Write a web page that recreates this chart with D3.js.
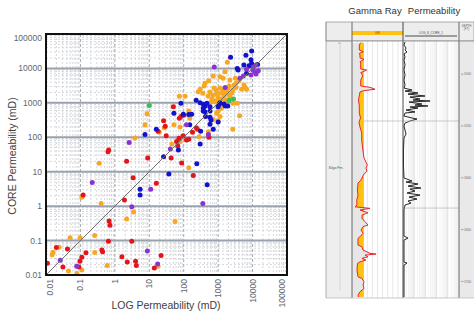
<!DOCTYPE html>
<html><head><meta charset="utf-8">
<script src="https://cdn.jsdelivr.net/npm/d3@7"></script>
<style>body{margin:0;background:#fff}svg{display:block;font-family:"Liberation Sans",Arial,sans-serif}</style>
</head><body><svg id="c" width="474" height="321"></svg>
<script>
// ---------- scatter data: [LOG permeability, CORE permeability] in mD ----------
const orangePts = [[0.015,0.039],[0.016,0.046],[0.024,0.064],[0.045,0.013],[0.05,0.12],[0.098,0.12],[0.11,0.014],[0.079,0.011],[0.26,0.14],[0.26,0.045],[0.6,0.019],[2.2,0.42],[3.5,0.68],[18,0.018],[56,0.36],[0.4,1.2],[0.11,1.8],[0.35,17.5],[3.8,95],[7.5,230],[8.6,480],[140,13],[19.5,140],[27,190],[45,64],[78,76],[91,104],[280,104],[520,145],[2650,170],[4200,420],[52,230],[78,200],[140,580],[150,360],[910,500],[1130,400],[720,330],[1000,300],[1010,580],[1230,700],[110,1550],[75,1550],[3600,970],[2750,970],
[1850,15000],[1580,8000],[1130,5700],[2200,4600],[3150,5200],[4000,4300],[5600,3300],[2900,3300],[530,4400],[415,3700],[300,2500],[265,2100],[360,1900],[2700,2400],[3300,2800],[4800,2500],[6700,2500],[2100,3100],[720,6000],[390,3100],[1400,5200],[3300,3700],[6000,2900],
[580,2060],[710,1690],[870,2360],[990,1480],[1210,1930],[1480,1580],[1810,2200],[2070,1690],[660,1290],[810,1130],[1060,1210],[1290,1290],[1690,1210],[2200,1480],[760,2700],[1130,2700],[1580,1810],[510,1580],[620,1060],[930,1810],[1380,2360],[1930,2700],[2520,1930]];
const redPts = [[0.011,0.022],[0.020,0.063],[0.042,0.057],[0.031,0.017],[0.145,0.044],[0.11,0.033],[0.097,0.025],[0.09,0.017],[0.42,0.053],[0.44,0.047],[0.65,0.095],[0.68,0.37],[0.72,0.28],[1.6,0.034],[2.3,0.024],[3.1,0.095],[4.0,0.025],[4.2,0.019],[14,0.016],[22,0.037],
[0.63,38],[0.66,43],[2.2,20],[9.0,25],[3.4,6.7],[0.12,2.1],[1.9,1.5],[16,4.6],[43,25],[87,18],[190,7.7],
[26,300],[29,210],[18,150],[31,110],[50,770],[100,440],[85,410],[75,360],[230,190],[250,170],[180,140],[540,100],[97,110],[120,83],[140,87],[73,93],[62,75],[67,57]];
const bluePts = [[9400,32000],[6400,24000],[2300,21000],[9000,18000],[5600,12600],[7900,12000],[9400,14000],[14000,13000],[3600,10000],[3800,9000],[6700,7200],
[230,1200],[300,1000],[370,910],[420,810],[580,770],[1080,910],[1480,930],[1600,810],[1900,810],[1130,1000],[470,970],[370,700],[410,550],
[83,970],[170,470],[140,460],[97,470],[52,500],[370,580],[580,580],[430,400],[580,380],[1000,280],[620,320],[580,240],[720,170],[150,230],[16,170],[310,150],[70,43],[26,27],[240,17],[37,8.6],[480,4.2],[5.4,3.1],[5.4,2.1],[7.5,120],[300,64],[1000,770]];
const purplePts = [[10500,11000],[12600,12600],[10300,9000],[11500,8000],[9000,6400],[12600,6900],[6700,9400],[5400,6000],[14700,8600],[770,11000],[4300,5200],[1600,2800],[120,230],[520,120],[41,46],[2.6,70],[0.22,4.9],[11,3.1],[360,1.2],[3.1,0.96],[8.8,0.05],[17.5,0.021],[0.026,0.027],[0.078,0.018]];
const greenPts = [[10,840],[2100,1200],[2800,1300]];
const majorTicks = [0.01,0.1,1,10,100,1000,10000,100000];
const tickLabels = ["0.01","0.1","1","10","100","1000","10000","100000"];

// ---------- well log data ----------
const grDepth = [1469.6,1471.9,1476.7,1478.3,1479.9,1481.5,1484.4,1485.7,1488.0,1489.2,1495.0,1496.0,1498.6,1498.9,1501.8,1503.7,1505.6,1511.4,1512.7,1514.6,1516.0,1517.2,1524.9,1530.7,1537.5,1542.3,1546.2,1551.0,1556.8,1563.6,1570.3,1576.1,1580.9,1584.8,1587.7,1590.6,1593.5,1597.4,1602.2,1605.1,1611.8,1617.6,1621.5,1626.3,1628.0,1629.5,1631.1,1633.7,1636.0,1639.1,1642.4,1645.6,1647.2,1650.4,1653.6,1656.9,1658.5,1664.9,1666.6,1669.7,1672.9,1673.6,1674.6,1676.2,1677.8,1679.4,1681.1,1682.6,1689.1,1695.5,1697.1,1700.4,1703.5,1706.7,1710.0,1713.2,1715.1];
const grValues = [25.6,21.5,21.5,33.2,21.5,23.5,23.5,35.3,23.5,25.6,25.6,43.2,25.6,28.5,30.9,28.5,25.6,25.6,52.9,67.6,33.2,23.5,19.1,21.5,21.5,25,20.6,23.5,28.5,28.5,30.9,33.2,35.3,41.2,45,41.2,44.1,33.2,26.5,17.6,16.2,17.6,13.8,14.7,8.8,52.9,23.5,47.1,29.4,29.4,38.2,47.1,32.4,26.5,32.4,23.5,17.6,17.6,29.4,32.4,52.9,70.6,38.2,47.1,29.4,41.2,23.5,16.2,14.7,17.6,29.4,35.3,32.4,35.3,23.5,17.6,19.1];
const permDepth = [1469.0,1471.9,1474.8,1476.7,1478.6,1480.5,1483.4,1486.3,1491.1,1495.9,1500.8,1505.6,1510.5,1513.4,1515.3,1516.3,1518.2,1519.2,1521.1,1522.1,1524.0,1525.0,1525.9,1526.9,1528.8,1529.8,1530.7,1531.7,1532.7,1534.6,1536.5,1537.5,1540.4,1542.3,1543.3,1545.2,1547.2,1550.1,1553.9,1557.8,1561.6,1573.2,1587.7,1600.2,1603.1,1604.1,1606.0,1608.0,1609.9,1610.9,1612.8,1614.7,1616.7,1618.6,1620.5,1622.4,1624.4,1626.3,1631.1,1640.8,1656.2,1658.2,1660.1,1674.6,1681.3,1682.3,1684.2,1698.7,1715.1];
const permValues = [0.151,0.123,0.185,0.151,0.228,0.123,0.151,0.123,0.151,0.123,0.151,0.123,0.151,0.123,0.64,0.151,2.2,0.28,9.2,0.42,3.3,0.78,26,0.343,5.0,1.18,17,0.42,2.2,0.185,1.18,0.151,0.123,0.64,1.78,0.42,0.151,0.123,0.151,0.185,0.123,0.11,0.11,0.123,0.64,0.185,2.2,0.28,4.0,0.42,1.18,0.228,3.3,0.343,1.78,0.28,0.52,0.151,0.123,0.123,0.123,0.28,0.123,0.123,0.123,0.228,0.123,0.123,0.123];
const depthTicks = [1500,1550,1600,1650,1700];
const formationTops = [1545.2,1629.2];
const grCutoff = 35;

const svg = d3.select("#c");

// ================= SCATTER =================
const L=46,R=287,T=34,B=275;
const x = d3.scaleLog().domain([0.01,100000]).range([L,R]);
const y = d3.scaleLog().domain([0.01,100000]).range([B,T]);
const minor = [];
for (let e=-2;e<=4;e++) for (let k=2;k<=9;k++) minor.push(k*Math.pow(10,e));
const g = svg.append("g");
g.append("rect").attr("x",L).attr("y",T).attr("width",R-L).attr("height",B-T).attr("fill","#fff");
g.selectAll(".mv").data(minor).join("line").attr("x1",d=>x(d)).attr("x2",d=>x(d)).attr("y1",T).attr("y2",B)
 .attr("stroke","#c9cdd2").attr("stroke-width",0.8).attr("stroke-dasharray","2,2");
g.selectAll(".mh").data(minor).join("line").attr("y1",d=>y(d)).attr("y2",d=>y(d)).attr("x1",L).attr("x2",R)
 .attr("stroke","#c9cdd2").attr("stroke-width",0.8).attr("stroke-dasharray","2,2");
g.selectAll(".Mv").data(majorTicks.slice(1,-1)).join("line").attr("x1",d=>x(d)).attr("x2",d=>x(d)).attr("y1",T).attr("y2",B)
 .attr("stroke","#a2a9b1").attr("stroke-width",1).attr("stroke-dasharray","3,2");
g.selectAll(".Mh").data(majorTicks.slice(1,-1)).join("line").attr("y1",d=>y(d)).attr("y2",d=>y(d)).attr("x1",L).attr("x2",R)
 .attr("stroke","#9aa3ad").attr("stroke-width",2);

const series = [[orangePts,"#f7a823"],[redPts,"#e3151b"],[bluePts,"#1212cc"],[purplePts,"#8a33d4"],[greenPts,"#3cbf4c"]];
series.forEach(([pts,col])=>{
  g.append("g").selectAll("circle").data(pts).join("circle")
   .attr("cx",d=>x(d[0])).attr("cy",d=>y(d[1])).attr("r",2.5).attr("fill",col);
});
g.append("line").attr("x1",x(0.01)).attr("y1",y(0.01)).attr("x2",x(100000)).attr("y2",y(100000))
 .attr("stroke","#707070").attr("stroke-width",1);
g.append("rect").attr("x",L).attr("y",T).attr("width",R-L).attr("height",B-T).attr("fill","none")
 .attr("stroke","#111").attr("stroke-width",2);

// y tick labels
g.selectAll(".yl").data(majorTicks).join("text")
 .attr("x",L-4).attr("y",(d,i)=>y(d)+(i===majorTicks.length-1?4:0)).attr("dy","0.35em")
 .attr("text-anchor","end").attr("font-size",8.5).attr("fill","#5d6772").text((d,i)=>tickLabels[i]);
// x tick labels rotated
g.selectAll(".xl").data(majorTicks).join("text")
 .attr("transform",(d,i)=>`translate(${x(d)+(i===0?4.5:(i===majorTicks.length-1?-5:0))},${B+4}) rotate(-90)`)
 .attr("text-anchor","end").attr("dy","0.35em").attr("font-size",8.5).attr("fill","#5d6772").text((d,i)=>tickLabels[i]);
g.append("text").attr("transform","translate(16,156) rotate(-90)").attr("text-anchor","middle")
 .attr("font-size",10.5).attr("fill","#404040").text("CORE Permeability (mD)");
g.append("text").attr("x",166).attr("y",309).attr("text-anchor","middle")
 .attr("font-size",10.5).attr("fill","#404040").text("LOG Permeability (mD)");

// ================= WELL LOG =================
const HT=22,HB=41,BT=41,BB=298;
const cL=326,cG=352,cP=403,cD=459,cR=474;
const dep = d3.scaleLinear().domain([1468,1716]).range([BT,BB]);
const grX = d3.scaleLinear().domain([0,150]).range([cG,cP]);
const pX = d3.scaleLog().domain([0.1,10000]).range([cP,cD]);
const w = svg.append("g");

w.append("text").attr("x",375).attr("y",14).attr("text-anchor","middle").attr("font-size",9.5).attr("fill","#333").text("Gamma Ray");
w.append("text").attr("x",434).attr("y",14).attr("text-anchor","middle").attr("font-size",9.5).attr("fill","#333").text("Permeability");

// header
w.append("rect").attr("x",cL).attr("y",HT).attr("width",cR-cL).attr("height",HB-HT).attr("fill","#ededed").attr("stroke","#9a9a9a").attr("stroke-width",0.8);
w.append("rect").attr("x",cG).attr("y",31).attr("width",cP-cG).attr("height",4).attr("fill","#ffc20e");
w.append("text").attr("x",(cG+cP)/2).attr("y",34.3).attr("text-anchor","middle").attr("font-size",3.5).attr("fill","#d62020").text("GR");
w.append("line").attr("x1",cP+2).attr("x2",cD-2).attr("y1",36).attr("y2",36).attr("stroke","#222").attr("stroke-width",0.8);
w.append("text").attr("x",(cP+cD)/2).attr("y",34).attr("text-anchor","middle").attr("font-size",3).attr("fill","#444").text("LOG_K_CORE_1");
w.append("text").attr("x",466.5).attr("y",27).attr("text-anchor","middle").attr("font-size",2.8).attr("fill","#555").text("DEPTH");
w.append("text").attr("x",466.5).attr("y",30).attr("text-anchor","middle").attr("font-size",2.8).attr("fill","#555").text("(FT)");

// body backgrounds
w.append("rect").attr("x",cL).attr("y",BT).attr("width",cG-cL).attr("height",BB-BT).attr("fill","#eeeeee");
w.append("rect").attr("x",cG).attr("y",BT).attr("width",cP-cG).attr("height",BB-BT).attr("fill","#fff");
w.append("rect").attr("x",cP).attr("y",BT).attr("width",cD-cP).attr("height",BB-BT).attr("fill","#fff");
w.append("rect").attr("x",cD).attr("y",BT).attr("width",cR-cD).attr("height",BB-BT).attr("fill","#e9e9e9");

// GR grid
const grGrid = d3.range(15,150,15);
w.selectAll(".gg").data(grGrid).join("line").attr("x1",d=>grX(d)).attr("x2",d=>grX(d)).attr("y1",BT).attr("y2",BB)
 .attr("stroke","#d6d6d6").attr("stroke-width",0.6);
// perm grid
const pMinor=[]; for(let e=-1;e<=3;e++) for(let k=1;k<=9;k++) pMinor.push(k*Math.pow(10,e));
w.selectAll(".pg").data(pMinor.filter(v=>v>0.1)).join("line").attr("x1",d=>pX(d)).attr("x2",d=>pX(d)).attr("y1",BT).attr("y2",BB)
 .attr("stroke",d=>Math.abs(Math.log10(d)%1)<1e-9?"#cfcfcf":"#ececec").attr("stroke-width",0.6);

const grData = grDepth.map((d,i)=>({d,v:grValues[i]}));
// grey shading left of curve
w.append("path").datum(grData).attr("fill","#e6e6e6")
 .attr("d",d3.area().y(p=>dep(p.d)).x0(cG).x1(p=>grX(p.v)));
// yellow sand fill between curve and cutoff
w.append("path").datum(grData).attr("fill","#ffc20e")
 .attr("d",d3.area().y(p=>dep(p.d)).x0(p=>grX(Math.min(p.v,grCutoff))).x1(grX(grCutoff)));
w.append("path").datum(grData).attr("fill","none").attr("stroke","#e8262b").attr("stroke-width",1)
 .attr("d",d3.line().y(p=>dep(p.d)).x(p=>grX(p.v)));

const pData = permDepth.map((d,i)=>({d,v:permValues[i]}));
w.append("path").datum(pData).attr("fill","none").attr("stroke","#111").attr("stroke-width",0.9)
 .attr("d",d3.line().y(p=>dep(p.d)).x(p=>pX(p.v)));

// formation top lines
w.selectAll(".ft").data(formationTops).join("line").attr("x1",(d,i)=>i===0?grX(grCutoff):cP).attr("x2",cD)
 .attr("y1",d=>dep(d)).attr("y2",d=>dep(d)).attr("stroke","#b5b5b5").attr("stroke-width",0.7);

// left track details
w.append("line").attr("x1",340).attr("x2",340).attr("y1",BT+2).attr("y2",BB-8).attr("stroke","#c4c4c4").attr("stroke-width",0.6);
w.append("line").attr("x1",338).attr("x2",341).attr("y1",BT+2).attr("y2",BT+2).attr("stroke","#999").attr("stroke-width",0.6);
w.append("text").attr("x",336).attr("y",169).attr("text-anchor","middle").attr("font-size",3.5).attr("fill","#555").text("Sligo Fm.");

// depth track
w.selectAll(".dt").data(depthTicks).join("line").attr("x1",cD+2).attr("x2",cD+4.5).attr("y1",d=>dep(d)).attr("y2",d=>dep(d))
 .attr("stroke","#777").attr("stroke-width",0.6);
w.selectAll(".dl").data(depthTicks).join("text").attr("x",cD+5).attr("y",d=>dep(d)).attr("dy","0.35em")
 .attr("font-size",3.2).attr("fill","#666").text(d=>d);

// borders
w.append("line").attr("x1",cL).attr("x2",cL).attr("y1",HT).attr("y2",BB).attr("stroke","#9a9a9a").attr("stroke-width",0.8);
[[cG,"#5a5a5a"],[cP,"#333"],[cD,"#5a5a5a"]].forEach(([xx,c])=>{
  w.append("line").attr("x1",xx).attr("x2",xx).attr("y1",HT).attr("y2",BB).attr("stroke",c).attr("stroke-width",0.9);
});
w.append("line").attr("x1",cL).attr("x2",cR).attr("y1",BB).attr("y2",BB).attr("stroke","#bbb").attr("stroke-width",0.8);
w.append("line").attr("x1",cL).attr("x2",cR).attr("y1",HB).attr("y2",HB).attr("stroke","#888").attr("stroke-width",0.8);
</script></body></html>
